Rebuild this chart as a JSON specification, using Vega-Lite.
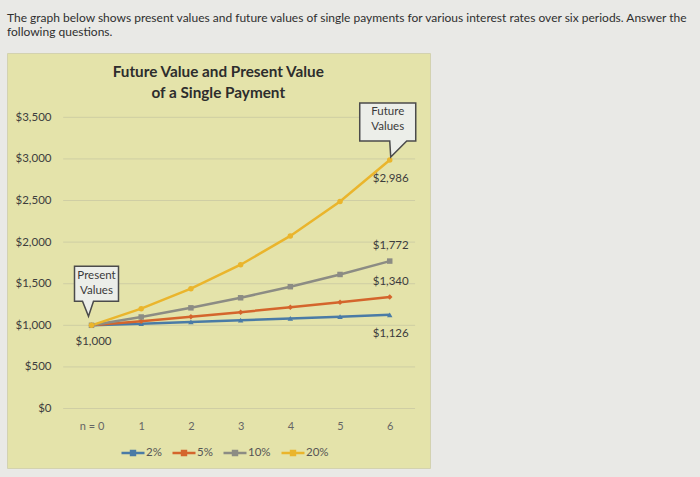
{
  "$schema": "https://vega.github.io/schema/vega-lite/v6.json",
  "width": 423,
  "height": 415,
  "autosize": "none",
  "padding": {"left": 7, "top": 53, "right": 270, "bottom": 9},
  "background": "#e9e9e6",
  "title": {
    "text": [
      "The graph below shows present values and future values of single payments for various interest rates over six periods. Answer the",
      "following questions."
    ],
    "anchor": "start",
    "frame": "group",
    "font": "Lato",
    "fontSize": 12,
    "fontWeight": "normal",
    "color": "#2f2f2f",
    "lineHeight": 14,
    "baseline": "bottom",
    "offset": 2
  },
  "config": {
    "font": "Lato",
    "view": {"fill": "#e4e3aa", "stroke": "#d3d2b0"},
    "axis": {"title": null}
  },
  "datasets": {
    "fv": [
      {"n": 0, "rate": "2%", "value": 1000},
      {"n": 1, "rate": "2%", "value": 1020},
      {"n": 2, "rate": "2%", "value": 1040},
      {"n": 3, "rate": "2%", "value": 1061},
      {"n": 4, "rate": "2%", "value": 1082},
      {"n": 5, "rate": "2%", "value": 1104},
      {"n": 6, "rate": "2%", "value": 1126},
      {"n": 0, "rate": "5%", "value": 1000},
      {"n": 1, "rate": "5%", "value": 1050},
      {"n": 2, "rate": "5%", "value": 1103},
      {"n": 3, "rate": "5%", "value": 1158},
      {"n": 4, "rate": "5%", "value": 1216},
      {"n": 5, "rate": "5%", "value": 1276},
      {"n": 6, "rate": "5%", "value": 1340},
      {"n": 0, "rate": "10%", "value": 1000},
      {"n": 1, "rate": "10%", "value": 1100},
      {"n": 2, "rate": "10%", "value": 1210},
      {"n": 3, "rate": "10%", "value": 1331},
      {"n": 4, "rate": "10%", "value": 1464},
      {"n": 5, "rate": "10%", "value": 1611},
      {"n": 6, "rate": "10%", "value": 1772},
      {"n": 0, "rate": "20%", "value": 1000},
      {"n": 1, "rate": "20%", "value": 1200},
      {"n": 2, "rate": "20%", "value": 1440},
      {"n": 3, "rate": "20%", "value": 1728},
      {"n": 4, "rate": "20%", "value": 2074},
      {"n": 5, "rate": "20%", "value": 2488},
      {"n": 6, "rate": "20%", "value": 2986}
    ],
    "grid": [
      {"grid": 0}, {"grid": 500}, {"grid": 1000}, {"grid": 1500},
      {"grid": 2000}, {"grid": 2500}, {"grid": 3000}, {"grid": 3500}
    ]
  },
  "layer": [
    {
      "data": {"name": "grid"},
      "mark": {"type": "rule", "color": "#cfcea4", "strokeWidth": 1},
      "encoding": {
        "x": {"datum": -0.57, "type": "quantitative"},
        "x2": {"datum": 6.51},
        "y": {"field": "grid", "type": "quantitative"}
      }
    },
    {
      "data": {"name": "fv"},
      "mark": {"type": "line", "strokeWidth": 2.5},
      "encoding": {
        "x": {
          "field": "n",
          "type": "quantitative",
          "scale": {"domain": [-1.7, 6.81], "nice": false, "zero": false},
          "axis": {
            "values": [0, 1, 2, 3, 4, 5, 6],
            "labelExpr": "datum.value == 0 ? 'n = 0' : datum.label",
            "grid": false,
            "domain": false,
            "ticks": false,
            "labelPadding": 0,
            "offset": -48,
            "labelFont": "Lato",
            "labelFontSize": 11,
            "labelColor": "#666666",
            "title": null
          }
        },
        "y": {
          "field": "value",
          "type": "quantitative",
          "scale": {"domain": [-715, 4273], "nice": false, "zero": false},
          "axis": {
            "values": [0, 500, 1000, 1500, 2000, 2500, 3000, 3500],
            "format": "$,.0f",
            "grid": false,
            "domain": false,
            "ticks": false,
            "labelPadding": 3,
            "offset": -47,
            "labelFont": "Lato",
            "labelFontSize": 11.5,
            "labelColor": "#3d3d3d",
            "title": null
          }
        },
        "color": {
          "field": "rate",
          "type": "nominal",
          "scale": {
            "domain": ["2%", "5%", "10%", "20%"],
            "range": ["#4a7ba6", "#d4652c", "#8c8c84", "#eab52c"]
          },
          "legend": {
            "orient": "none",
            "legendX": 113,
            "legendY": 387,
            "direction": "horizontal",
            "title": null,
            "symbolType": "M-1,0L1,0M-0.17,-0.17L0.17,-0.17L0.17,0.17L-0.17,0.17Z",
            "symbolSize": 529,
            "symbolStrokeWidth": 2.5,
            "labelFont": "Lato",
            "labelFontSize": 11.5,
            "labelColor": "#555555",
            "labelOffset": 0,
            "columnPadding": 5
          }
        }
      }
    },
    {
      "data": {"name": "fv"},
      "transform": [{"filter": "datum.rate == '2%'"}],
      "mark": {"type": "point", "shape": "triangle-up", "filled": true, "size": 30, "opacity": 1, "color": "#4a7ba6"},
      "encoding": {
        "x": {"field": "n", "type": "quantitative"},
        "y": {"field": "value", "type": "quantitative"}
      }
    },
    {
      "data": {"name": "fv"},
      "transform": [{"filter": "datum.rate == '5%'"}],
      "mark": {"type": "point", "shape": "diamond", "filled": true, "size": 30, "opacity": 1, "color": "#d4652c"},
      "encoding": {
        "x": {"field": "n", "type": "quantitative"},
        "y": {"field": "value", "type": "quantitative"}
      }
    },
    {
      "data": {"name": "fv"},
      "transform": [{"filter": "datum.rate == '10%'"}],
      "mark": {"type": "point", "shape": "square", "filled": true, "size": 30, "opacity": 1, "color": "#8c8c84"},
      "encoding": {
        "x": {"field": "n", "type": "quantitative"},
        "y": {"field": "value", "type": "quantitative"}
      }
    },
    {
      "data": {"name": "fv"},
      "transform": [{"filter": "datum.rate == '20%'"}],
      "mark": {"type": "point", "shape": "circle", "filled": true, "size": 30, "opacity": 1, "color": "#eab52c"},
      "encoding": {
        "x": {"field": "n", "type": "quantitative"},
        "y": {"field": "value", "type": "quantitative"}
      }
    },
    {
      "data": {"name": "fv"},
      "transform": [{"filter": "datum.n == 0 && datum.rate == '2%'"}],
      "mark": {
        "type": "point",
        "shape": "M-17,-59L27,-59L27,-24L2,-24L-3,-9L-9,-24L-17,-24Z",
        "size": 4,
        "filled": true,
        "fill": "#eceee9",
        "stroke": "#4b4b4b",
        "strokeWidth": 1.5,
        "opacity": 1
      },
      "encoding": {
        "x": {"field": "n", "type": "quantitative"},
        "y": {"field": "value", "type": "quantitative"}
      }
    },
    {
      "data": {"name": "fv"},
      "transform": [{"filter": "datum.n == 0 && datum.rate == '2%'"}],
      "mark": {
        "type": "text",
        "text": ["Present", "Values"],
        "dx": 5,
        "dy": -49,
        "fontSize": 11.5,
        "lineHeight": 15,
        "baseline": "middle",
        "color": "#3a3a3a"
      },
      "encoding": {
        "x": {"field": "n", "type": "quantitative"},
        "y": {"field": "value", "type": "quantitative"}
      }
    },
    {
      "data": {"name": "fv"},
      "transform": [{"filter": "datum.n == 6 && datum.rate == '20%'"}],
      "mark": {
        "type": "point",
        "shape": "M-30,-57L26,-57L26,-19L17,-19L1,-3L0,-19L-30,-19Z",
        "size": 4,
        "filled": true,
        "fill": "#eceee9",
        "stroke": "#4b4b4b",
        "strokeWidth": 1.5,
        "opacity": 1
      },
      "encoding": {
        "x": {"field": "n", "type": "quantitative"},
        "y": {"field": "value", "type": "quantitative"}
      }
    },
    {
      "data": {"name": "fv"},
      "transform": [{"filter": "datum.n == 6 && datum.rate == '20%'"}],
      "mark": {
        "type": "text",
        "text": ["Future", "Values"],
        "dx": -2,
        "dy": -48,
        "fontSize": 11.5,
        "lineHeight": 15,
        "baseline": "middle",
        "color": "#3a3a3a"
      },
      "encoding": {
        "x": {"field": "n", "type": "quantitative"},
        "y": {"field": "value", "type": "quantitative"}
      }
    },
    {
      "data": {"name": "fv"},
      "transform": [{"filter": "datum.n == 0 && datum.rate == '2%'"}],
      "mark": {"type": "text", "dx": 2, "dy": 17, "fontSize": 11.5, "color": "#3d3d3d"},
      "encoding": {
        "x": {"field": "n", "type": "quantitative"},
        "y": {"field": "value", "type": "quantitative"},
        "text": {"field": "value", "type": "quantitative", "format": "$,.0f"}
      }
    },
    {
      "data": {"name": "fv"},
      "transform": [{"filter": "datum.n == 6 && (datum.rate == '2%' || datum.rate == '20%')"}],
      "mark": {"type": "text", "dx": 1, "dy": 19, "fontSize": 11.5, "color": "#3d3d3d"},
      "encoding": {
        "x": {"field": "n", "type": "quantitative"},
        "y": {"field": "value", "type": "quantitative"},
        "text": {"field": "value", "type": "quantitative", "format": "$,.0f"}
      }
    },
    {
      "data": {"name": "fv"},
      "transform": [{"filter": "datum.n == 6 && (datum.rate == '5%' || datum.rate == '10%')"}],
      "mark": {"type": "text", "dx": 1, "dy": -15, "fontSize": 11.5, "color": "#3d3d3d"},
      "encoding": {
        "x": {"field": "n", "type": "quantitative"},
        "y": {"field": "value", "type": "quantitative"},
        "text": {"field": "value", "type": "quantitative", "format": "$,.0f"}
      }
    },
    {
      "data": {"values": [{}]},
      "mark": {
        "type": "text",
        "text": ["Future Value and Present Value", "of a Single Payment"],
        "fontSize": 15.3,
        "fontWeight": "bold",
        "lineHeight": 21,
        "baseline": "middle",
        "color": "#2d2d2d"
      },
      "encoding": {
        "x": {"datum": 2.55, "type": "quantitative"},
        "y": {"datum": 4045, "type": "quantitative"}
      }
    }
  ]
}
